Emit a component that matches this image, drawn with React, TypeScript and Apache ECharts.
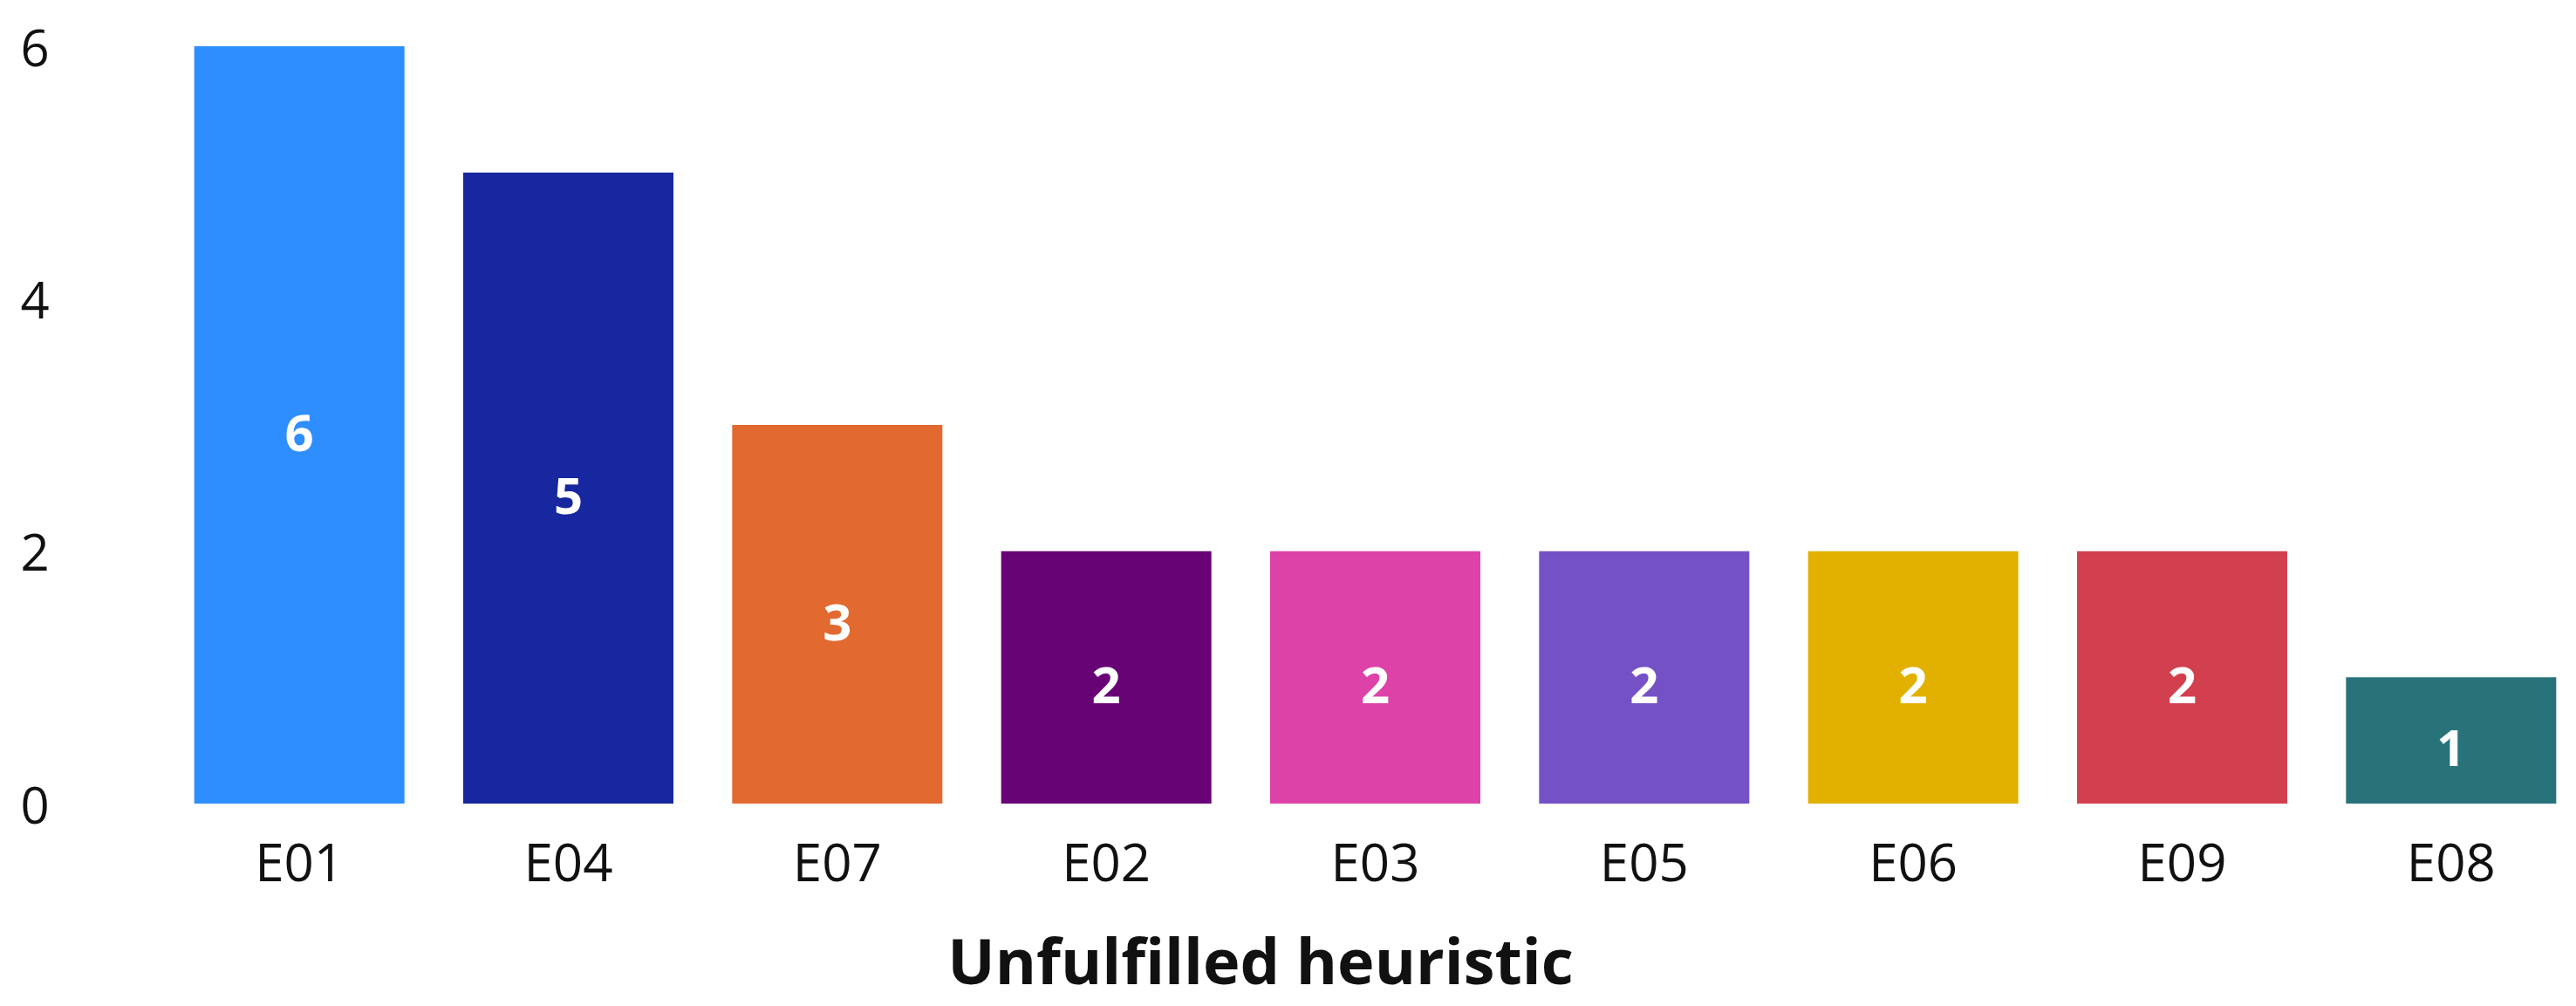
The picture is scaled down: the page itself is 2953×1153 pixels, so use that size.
import React, { useEffect, useRef } from "react";
import * as echarts from "echarts";

const categories = ["E01", "E04", "E07", "E02", "E03", "E05", "E06", "E09", "E08"];
const values = [6, 5, 3, 2, 2, 2, 2, 2, 1];
const barColors = ["#2F8EFD", "#1627A0", "#E2692F", "#680376", "#DD42A9", "#7551C6", "#E2B100", "#D2404F", "#28737A"];
const yTicks = [0, 2, 4, 6];
const xTitle = "Unfulfilled heuristic";

export default function App() {
  const ref = useRef<HTMLDivElement>(null);
  useEffect(() => {
    document.body.style.margin = "0";
    document.body.style.overflow = "hidden";
    const chart = echarts.init(ref.current!, null, { renderer: "svg" });
    chart.setOption({
      animation: false,
      backgroundColor: "#ffffff",
      grid: { left: 189, right: 0, top: 53, bottom: 232, containLabel: false },
      xAxis: {
        type: "category",
        data: categories,
        axisLine: { show: false },
        axisTick: { show: false },
        axisLabel: {
          color: "#111111",
          fontSize: 60,
          fontFamily: "Open Sans",
          margin: 36,
        },
      },
      yAxis: {
        type: "value",
        min: yTicks[0],
        max: yTicks[yTicks.length - 1],
        interval: 2,
        splitLine: { show: false },
        axisLine: { show: false },
        axisTick: { show: false },
        axisLabel: {
          color: "#111111",
          fontSize: 58,
          fontFamily: "Open Sans",
          align: "center",
          margin: 149,
        },
      },
      series: [
        {
          type: "bar",
          data: values.map((v, i) => ({ value: v, itemStyle: { color: barColors[i] } })),
          barWidth: 241,
          label: {
            show: true,
            position: "inside",
            offset: [0, 7],
            color: "#ffffff",
            fontSize: 58,
            fontWeight: "bold",
            fontFamily: "Open Sans",
          },
        },
      ],
      graphic: [
        {
          type: "text",
          x: 1445,
          y: 1100,
          style: {
            text: xTitle,
            fill: "#111111",
            font: "bold 72px 'Open Sans'",
            textAlign: "center",
            textVerticalAlign: "middle",
          },
        },
      ],
    });
    return () => chart.dispose();
  }, []);
  return <div ref={ref} style={{ position: "fixed", left: 0, top: 0, width: 2964, height: 1153 }} />;
}
